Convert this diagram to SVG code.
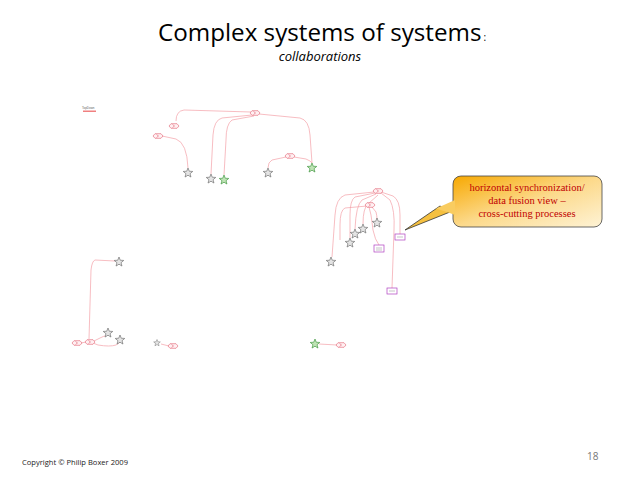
<svg xmlns="http://www.w3.org/2000/svg" width="638" height="478" viewBox="0 0 638 478">
<defs>
<style>
.title{font-family:"Open Sans","Liberation Sans",sans-serif;fill:#000}
.foot{font-family:"Open Sans","Liberation Sans",sans-serif;fill:#222}
.call{font-family:"Liberation Serif",serif;font-size:10.5px;fill:#c00000;text-anchor:middle}
.conn{fill:none;stroke:#f4a0a8;stroke-width:0.7}
.sg{fill:#e4e4e4;stroke:#606060;stroke-width:0.6}
.sgr{fill:#bfe3b5;stroke:#2e8b2e;stroke-width:0.6}
.proc{fill:#fff0f2;stroke:#e06070;stroke-width:0.6}
.box{fill:#fff;stroke:#b040c0;stroke-width:0.7}
.lbl{fill:none;stroke:#888;stroke-width:0.5}
</style>
<path id="star" d="M0,-5 L1.29,-1.78 L4.76,-1.55 L2.09,0.68 L2.94,4.05 L0,2.2 L-2.94,4.05 L-2.09,0.68 L-4.76,-1.55 L-1.29,-1.78 Z"/>
<path id="pr" d="M-5,0 L-3,-2.3 L3,-2.3 L5,0 L3,2.3 L-3,2.3 Z M-1.5,-1.5 L0.5,0 L-1.5,1.5"/>
<linearGradient id="cg" x1="0" y1="0" x2="1" y2="1">
<stop offset="0" stop-color="#f7a800"/>
<stop offset="0.5" stop-color="#fcd98a"/>
<stop offset="1" stop-color="#fef3d6"/>
</linearGradient>
</defs>
<rect width="638" height="478" fill="#fff"/>

<text class="title" x="158" y="41" font-size="24.2">Complex systems of systems<tspan font-size="10" dx="2">:</tspan></text>
<text class="title" x="320" y="61" font-size="13" font-style="italic" text-anchor="middle">collaborations</text>

<g id="connectors">
<path class="conn" d="M251,112 L184,110 Q176,111 176,121"/>
<path class="conn" d="M162,136 L176,139 Q187,143 188,168"/>
<path class="conn" d="M252,115 L222,118 Q214,120 213,135 L211,174"/>
<path class="conn" d="M254,116 L232,120 Q226,124 226,140 L224,175"/>
<path class="conn" d="M259,114 L300,118 Q309,120 310,135 L312,163"/>
<path class="conn" d="M286,157 L272,160 Q268,162 268,168"/>
<path class="conn" d="M294,157 L306,159 Q311,161 312,163"/>
<path class="conn" d="M374,192 L345,195 Q336,198 335,215 L332,257"/>
<path class="conn" d="M375,193 L355,197 Q350,200 350,215 L350,238"/>
<path class="conn" d="M376,194 L362,200 Q356,205 355,229"/>
<path class="conn" d="M378,195 L368,204 Q363,208 363,224"/>
<path class="conn" d="M381,192 L393,196 Q400,200 400,215 L400,234"/>
<path class="conn" d="M381,193 L390,200 Q395,210 394,230 L392,288"/>
<path class="conn" d="M367,206 L345,208 Q340,210 340,225 L340,240"/>
<path class="conn" d="M372,207 L376,212 Q377,216 377,219"/>
<path class="conn" d="M369,207 L371,215 Q372,222 373,230 Q375,240 379,245"/>
<path class="conn" d="M115,261 L95,260 Q92,261 91,270 L89,339"/>
<path class="conn" d="M94,341 L100,338 Q104,336 105,336"/>
<path class="conn" d="M93,343 L98,345 Q110,347 116,345 Q119,343 120,342"/>
<path class="conn" d="M81,343 L86,342"/>
<path class="conn" d="M161,344 L169,346"/>
<path class="conn" d="M319,344 L337,345"/>
</g>

<g id="topdown">
<text x="82" y="109" font-family="Liberation Sans, sans-serif" font-size="3" fill="#666">TopDown</text>
<rect x="83" y="110.5" width="13" height="1.5" fill="#f08080"/>
</g>

<g id="s1"><use href="#star" class="sg" x="188" y="173"/></g>
<g id="s2"><use href="#star" class="sg" x="211" y="179"/></g>
<g id="s3"><use href="#star" class="sgr" x="224" y="180"/></g>
<g id="s4"><use href="#star" class="sg" x="268" y="173"/></g>
<g id="s5"><use href="#star" class="sgr" x="312" y="168"/></g>
<g id="s6"><use href="#star" class="sg" x="119" y="262"/></g>
<g id="s7"><use href="#star" class="sg" x="108" y="333"/></g>
<g id="s8"><use href="#star" class="sg" x="120" y="340"/></g>
<g id="s9"><use href="#star" class="sg" x="157" y="343" transform="translate(157 343) scale(0.7) translate(-157 -343)"/></g>
<g id="s10"><use href="#star" class="sgr" x="315" y="344"/></g>
<g id="s11"><use href="#star" class="sg" x="331" y="262"/></g>
<g id="s12"><use href="#star" class="sg" x="350" y="243"/></g>
<g id="s13"><use href="#star" class="sg" x="355" y="234"/></g>
<g id="s14"><use href="#star" class="sg" x="363" y="229"/></g>
<g id="s15"><use href="#star" class="sg" x="377" y="223"/></g>

<g id="p1"><use href="#pr" class="proc" x="255" y="113"/></g>
<g id="p2"><use href="#pr" class="proc" x="174" y="126"/></g>
<g id="p3"><use href="#pr" class="proc" x="158" y="136"/></g>
<g id="p4"><use href="#pr" class="proc" x="290" y="156"/></g>
<g id="p5"><use href="#pr" class="proc" x="378" y="191"/></g>
<g id="p6"><use href="#pr" class="proc" x="370" y="205"/></g>
<g id="p7"><use href="#pr" class="proc" x="77" y="343"/></g>
<g id="p8"><use href="#pr" class="proc" x="90" y="342"/></g>
<g id="p9"><use href="#pr" class="proc" x="173" y="346"/></g>
<g id="p10"><use href="#pr" class="proc" x="341" y="345"/></g>

<g id="b1"><rect class="box" x="395" y="234" width="10" height="6"/><path class="lbl" d="M397,237 H403"/></g>
<g id="b2"><rect class="box" x="374" y="245" width="10" height="7"/><path class="lbl" d="M376,248 H382 M376,250 H382"/></g>
<g id="b3"><rect class="box" x="387" y="288" width="10" height="6"/><path class="lbl" d="M389,291 H395"/></g>

<g id="callout">
<path d="M405,230 L440,206 L450,212 Z" fill="#f5c040" stroke="#333" stroke-width="0.8"/>
<rect x="453" y="176" width="149" height="51" rx="8" fill="url(#cg)" stroke="#444" stroke-width="0.8"/>
<path d="M436,208.5 L455,200 L455,215 L447,212 Z" fill="#f9cc60"/>
<text class="call" x="527" y="191">horizontal synchronization/</text>
<text class="call" x="527" y="204">data fusion view –</text>
<text class="call" x="527" y="217">cross-cutting processes</text>
</g>

<text class="foot" x="22" y="465" font-size="8" textLength="106" lengthAdjust="spacingAndGlyphs">Copyright © Philip Boxer 2009</text>
<text class="foot" x="587" y="460" font-size="10" style="fill:#777">18</text>
</svg>
